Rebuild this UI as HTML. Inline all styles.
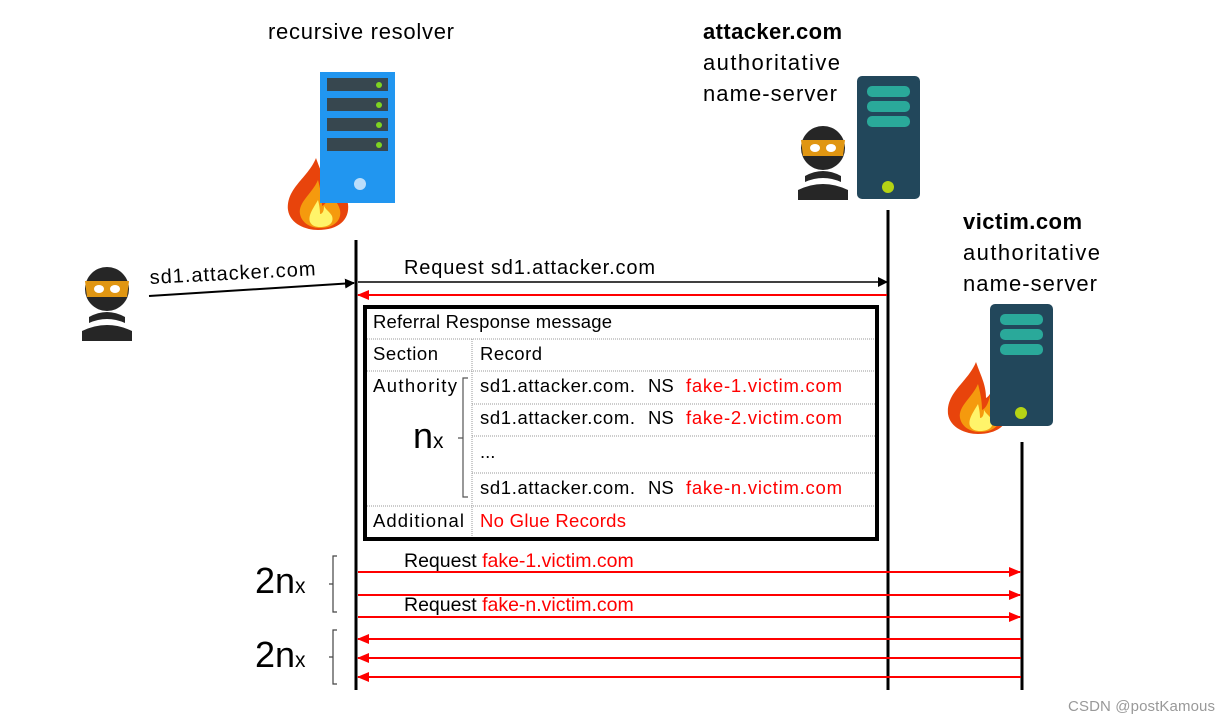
<!DOCTYPE html>
<html><head><meta charset="utf-8"><style>
body{margin:0;background:#fff}
svg{display:block;font-family:"Liberation Sans",sans-serif}
</style></head><body>
<svg width="1231" height="723" viewBox="0 0 1231 723" xmlns="http://www.w3.org/2000/svg">
<defs>
<marker id="ab" markerWidth="10" markerHeight="10" refX="9" refY="5" orient="auto" markerUnits="userSpaceOnUse"><path d="M0,0 L10,5 L0,10 z" fill="#000"/></marker>
<marker id="ar" markerWidth="12" markerHeight="10" refX="11" refY="5" orient="auto" markerUnits="userSpaceOnUse"><path d="M0,0 L12,5 L0,10 z" fill="#f00"/></marker>
<g id="ninja">
<circle cx="0" cy="0" r="22" fill="#262626"/>
<path d="M-22,-8 L22,-8 L20,8 L-20,8 z" fill="#e09612"/>
<ellipse cx="-8" cy="0" rx="5" ry="4" fill="#fff"/><ellipse cx="8" cy="0" rx="5" ry="4" fill="#fff"/>
<path d="M-18,28 Q0,18 18,28 L18,34 Q0,26 -18,34 z" fill="#262626"/>
<path d="M-25,42 Q0,30 25,42 L25,52 L-25,52 z" fill="#262626"/>
</g>
<g id="fire">
<path d="M0,0 C-8,20 -30,30 -28,52 C-26,66 -10,72 2,72 C22,72 34,62 32,46 C30,34 22,28 20,18 C16,28 14,34 10,36 C10,22 4,12 0,0z" fill="#e8440c"/>
<path d="M2,22 C-4,36 -18,44 -16,56 C-14,66 -4,70 4,70 C18,70 26,62 24,52 C22,44 16,40 14,34 C12,42 10,46 6,48 C6,38 4,30 2,22z" fill="#f59a0e"/>
<path d="M2,42 C-4,52 -8,58 -6,64 C-4,68 0,69 4,69 C14,69 18,64 16,58 C14,54 10,52 8,48 C8,54 6,56 4,56 C4,50 3,46 2,42z" fill="#fff46a"/>
</g>
</defs>

<text x="268" y="39" font-size="22" textLength="186">recursive resolver</text>
<text x="703" y="39" font-size="22" font-weight="bold" textLength="139">attacker.com</text>
<text x="703" y="70" font-size="22" textLength="137">authoritative</text>
<text x="703" y="101" font-size="22" textLength="134">name-server</text>
<text x="963" y="229" font-size="22" font-weight="bold" textLength="119">victim.com</text>
<text x="963" y="260" font-size="22" textLength="137">authoritative</text>
<text x="963" y="291" font-size="22" textLength="134">name-server</text>

<use href="#fire" x="316" y="158"/>
<rect x="320" y="72" width="75" height="131" fill="#2196f0"/>
<rect x="327" y="78" width="61" height="13" fill="#37474f"/>
<rect x="327" y="98" width="61" height="13" fill="#37474f"/>
<rect x="327" y="118" width="61" height="13" fill="#37474f"/>
<rect x="327" y="138" width="61" height="13" fill="#37474f"/>
<circle cx="379" cy="85" r="3" fill="#7ed321"/><circle cx="379" cy="105" r="3" fill="#7ed321"/>
<circle cx="379" cy="125" r="3" fill="#7ed321"/><circle cx="379" cy="145" r="3" fill="#7ed321"/>
<circle cx="360" cy="184" r="6" fill="#bbdefb"/>

<use href="#ninja" x="823" y="148"/>
<rect x="857" y="76" width="63" height="123" rx="5" fill="#22475b"/>
<rect x="867" y="86" width="43" height="11" rx="5" fill="#2aa99a"/>
<rect x="867" y="101" width="43" height="11" rx="5" fill="#2aa99a"/>
<rect x="867" y="116" width="43" height="11" rx="5" fill="#2aa99a"/>
<circle cx="888" cy="187" r="6" fill="#b5d314"/>

<use href="#fire" x="976" y="362"/>
<rect x="990" y="304" width="63" height="122" rx="5" fill="#22475b"/>
<rect x="1000" y="314" width="43" height="11" rx="5" fill="#2aa99a"/>
<rect x="1000" y="329" width="43" height="11" rx="5" fill="#2aa99a"/>
<rect x="1000" y="344" width="43" height="11" rx="5" fill="#2aa99a"/>
<circle cx="1021" cy="413" r="6" fill="#b5d314"/>

<use href="#ninja" x="107" y="289"/>
<text x="150" y="284" font-size="20" textLength="166" transform="rotate(-3 150 284)">sd1.attacker.com</text>
<line x1="149" y1="296" x2="354" y2="283" stroke="#000" stroke-width="2" marker-end="url(#ab)"/>

<line x1="356" y1="240" x2="356" y2="690" stroke="#000" stroke-width="3"/>
<line x1="888" y1="210" x2="888" y2="690" stroke="#000" stroke-width="3"/>
<line x1="1022" y1="442" x2="1022" y2="690" stroke="#000" stroke-width="3"/>

<text x="404" y="274" font-size="20" textLength="251">Request sd1.attacker.com</text>
<line x1="358" y1="282" x2="887" y2="282" stroke="#000" stroke-width="1.5" marker-end="url(#ab)"/>
<line x1="887" y1="295" x2="358" y2="295" stroke="#f00" stroke-width="2" marker-end="url(#ar)"/>

<rect x="365" y="307" width="512" height="232" fill="#fff" stroke="#000" stroke-width="4"/>
<g stroke="#999" stroke-width="1" stroke-dasharray="1,1">
<line x1="367" y1="339" x2="875" y2="339"/>
<line x1="367" y1="371" x2="875" y2="371"/>
<line x1="472" y1="404" x2="875" y2="404"/>
<line x1="472" y1="436" x2="875" y2="436"/>
<line x1="472" y1="473" x2="875" y2="473"/>
<line x1="367" y1="506" x2="875" y2="506"/>
<line x1="472" y1="339" x2="472" y2="537"/>
</g>
<g font-size="18.5">
<text x="373" y="328" textLength="239">Referral Response message</text>
<text x="373" y="360" textLength="65">Section</text><text x="480" y="360" textLength="62">Record</text>
<text x="373" y="392" textLength="84">Authority</text>
<text x="480" y="392" textLength="155">sd1.attacker.com.</text><text x="648" y="392">NS</text><text x="686" y="392" fill="#f00" textLength="156">fake-1.victim.com</text>
<text x="480" y="424" textLength="155">sd1.attacker.com.</text><text x="648" y="424">NS</text><text x="686" y="424" fill="#f00" textLength="156">fake-2.victim.com</text>
<text x="480" y="458">...</text>
<text x="480" y="494" textLength="155">sd1.attacker.com.</text><text x="648" y="494">NS</text><text x="686" y="494" fill="#f00" textLength="156">fake-n.victim.com</text>
<text x="373" y="527" textLength="91">Additional</text><text x="480" y="527" fill="#f00" textLength="146">No Glue Records</text>
</g>
<text x="413" y="448" font-size="36">n<tspan font-size="21">x</tspan></text>
<path d="M468,378 L463,378 L463,497 L468,497 M463,438 L458,438" fill="none" stroke="#555" stroke-width="1.2"/>

<text x="404" y="567" font-size="19.5">Request <tspan fill="#f00">fake-1.victim.com</tspan></text>
<text x="404" y="611" font-size="19.5">Request <tspan fill="#f00">fake-n.victim.com</tspan></text>
<g stroke="#f00" stroke-width="2">
<line x1="358" y1="572" x2="1020" y2="572" marker-end="url(#ar)"/>
<line x1="358" y1="595" x2="1020" y2="595" marker-end="url(#ar)"/>
<line x1="358" y1="617" x2="1020" y2="617" marker-end="url(#ar)"/>
<line x1="1021" y1="639" x2="358" y2="639" marker-end="url(#ar)"/>
<line x1="1021" y1="658" x2="358" y2="658" marker-end="url(#ar)"/>
<line x1="1021" y1="677" x2="358" y2="677" marker-end="url(#ar)"/>
</g>
<text x="255" y="593" font-size="36">2n<tspan font-size="21">x</tspan></text>
<text x="255" y="667" font-size="36">2n<tspan font-size="21">x</tspan></text>
<path d="M337,556 L333,556 L333,612 L337,612 M333,584 L329,584" fill="none" stroke="#444" stroke-width="1.2"/>
<path d="M337,630 L333,630 L333,684 L337,684 M333,657 L329,657" fill="none" stroke="#444" stroke-width="1.2"/>

<text x="1068" y="711" font-size="15" fill="#999" textLength="147">CSDN @postKamous</text>
</svg>
</body></html>
